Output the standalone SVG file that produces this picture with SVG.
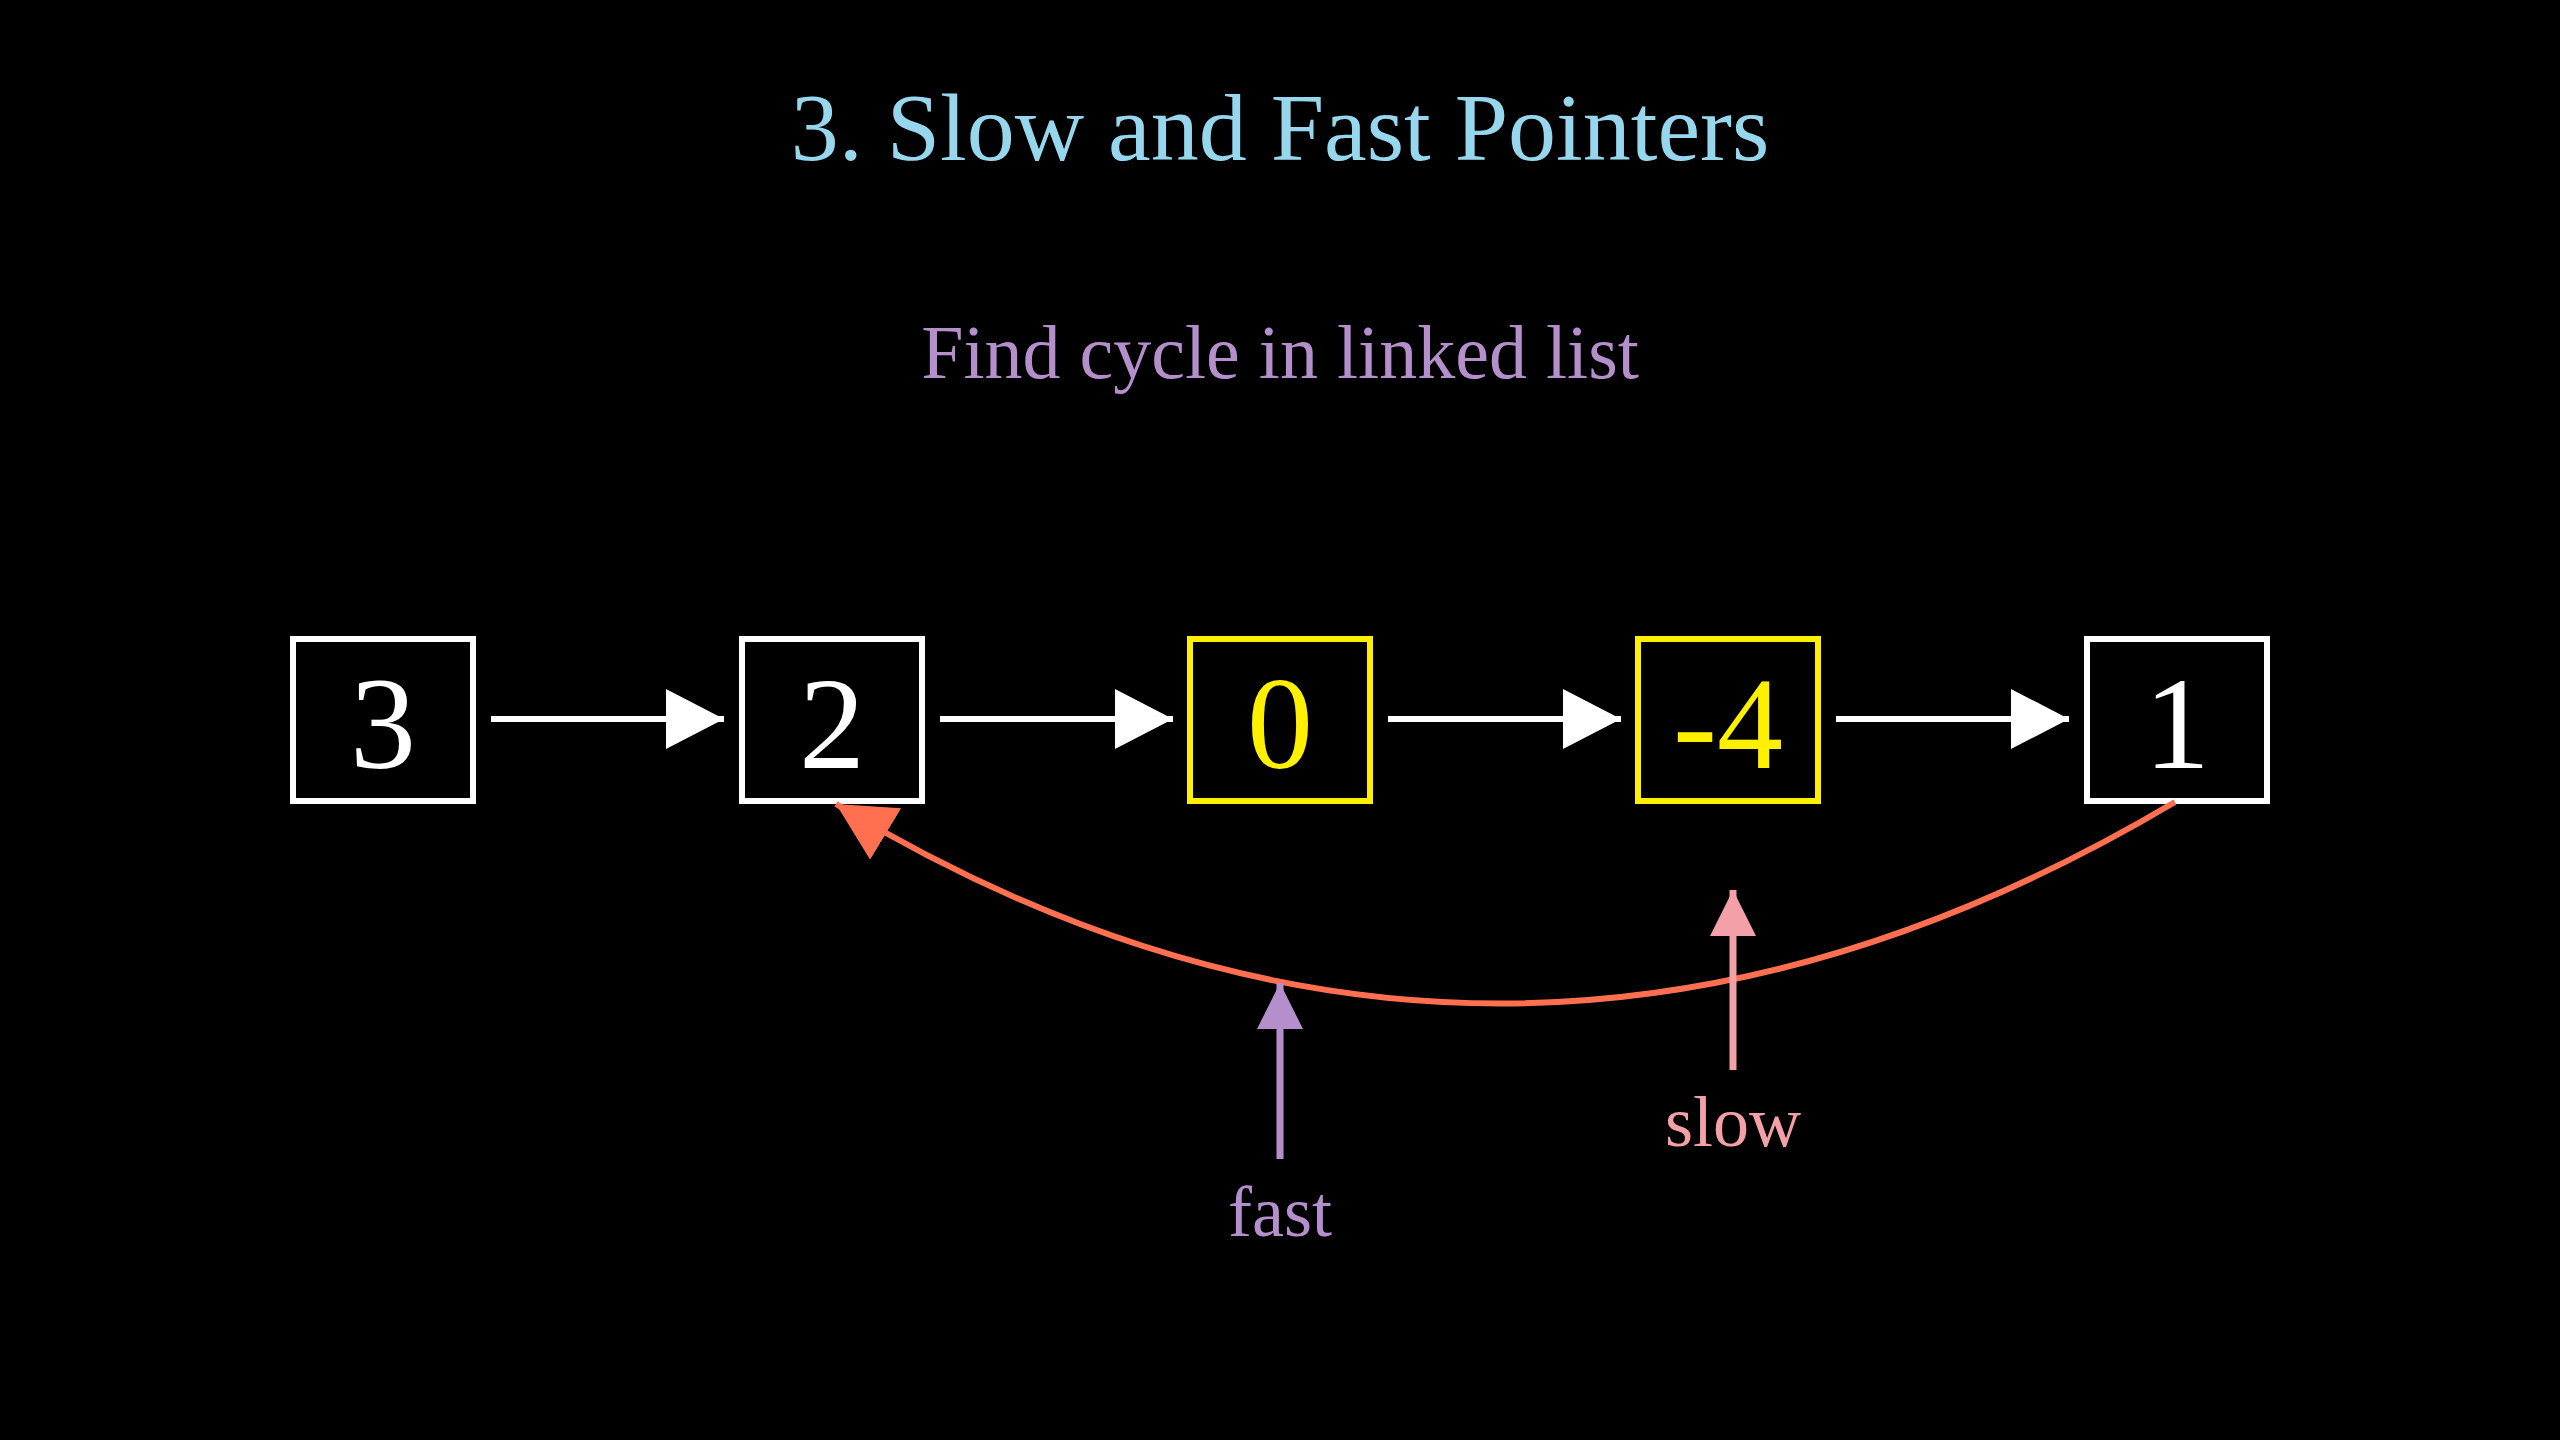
<svg xmlns="http://www.w3.org/2000/svg" width="2560" height="1440" viewBox="0 0 2560 1440">
<defs>
<style>
text{font-family:"Liberation Serif","DejaVu Serif",serif;text-anchor:middle}
.box{fill:none;stroke-width:6}
.num{font-size:132px}
.lnk{stroke:#fff;stroke-width:6;fill:none}
</style>
<marker id="wh" markerUnits="userSpaceOnUse" markerWidth="60" markerHeight="60" refX="58" refY="30" orient="auto"><path d="M0,0L58,30L0,60Z" fill="#fff"/></marker>
<marker id="rd" markerUnits="userSpaceOnUse" markerWidth="60" markerHeight="60" refX="58" refY="30" orient="auto"><path d="M0,0L58,30L0,60Z" fill="#FF6F50"/></marker>
<marker id="pu" markerUnits="userSpaceOnUse" markerWidth="50" markerHeight="50" refX="46" refY="25" orient="auto"><path d="M0,2L46,25L0,48Z" fill="#B48FCC"/></marker>
<marker id="pk" markerUnits="userSpaceOnUse" markerWidth="50" markerHeight="50" refX="46" refY="25" orient="auto"><path d="M0,2L46,25L0,48Z" fill="#F4A0A8"/></marker>
</defs>
<rect width="2560" height="1440" fill="#000"/>
<text x="1280" y="160" font-size="96" fill="#97D7EE">3. Slow and Fast Pointers</text>
<text x="1280" y="378" font-size="76" fill="#B48FCC">Find cycle in linked list</text>
<g id="n1"><rect class="box" x="293" y="639" width="180" height="162" stroke="#fff"/><text class="num" x="383" y="768" fill="#fff">3</text></g>
<g id="n2"><rect class="box" x="742" y="639" width="180" height="162" stroke="#fff"/><text class="num" x="832" y="768" fill="#fff">2</text></g>
<g id="n3"><rect class="box" x="1190" y="639" width="180" height="162" stroke="#FFF000"/><text class="num" x="1280" y="768" fill="#FFF000">0</text></g>
<g id="n4"><rect class="box" x="1638" y="639" width="180" height="162" stroke="#FFF000"/><text class="num" x="1728" y="768" fill="#FFF000">-4</text></g>
<g id="n5"><rect class="box" x="2087" y="639" width="180" height="162" stroke="#fff"/><text class="num" x="2177" y="768" fill="#fff">1</text></g>
<g id="connectors">
<line class="lnk" x1="491" y1="719" x2="724" y2="719" marker-end="url(#wh)"/>
<line class="lnk" x1="940" y1="719" x2="1173" y2="719" marker-end="url(#wh)"/>
<line class="lnk" x1="1388" y1="719" x2="1621" y2="719" marker-end="url(#wh)"/>
<line class="lnk" x1="1836" y1="719" x2="2069" y2="719" marker-end="url(#wh)"/>
<path d="M2175,802 Q1498,1204 836,804" fill="none" stroke="#FF6F50" stroke-width="6" marker-end="url(#rd)"/>
<line x1="1280" y1="1159" x2="1280" y2="983" stroke="#B48FCC" stroke-width="7" marker-end="url(#pu)"/>
<line x1="1733" y1="1070" x2="1733" y2="890" stroke="#F4A0A8" stroke-width="7" marker-end="url(#pk)"/>
</g>
<text x="1280" y="1236" font-size="72" fill="#B48FCC">fast</text>
<text x="1733" y="1146" font-size="72" fill="#F4A0A8">slow</text>
</svg>
